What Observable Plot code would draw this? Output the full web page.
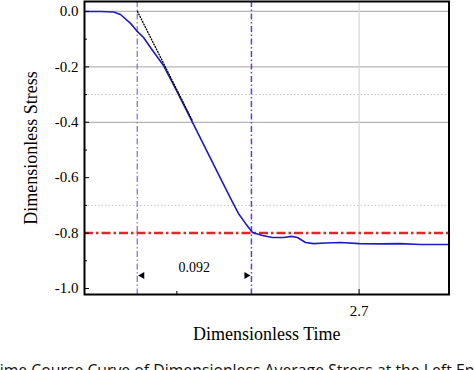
<!DOCTYPE html>
<html>
<head>
<meta charset="utf-8">
<script src="https://cdn.jsdelivr.net/npm/d3@7"></script>
<script src="https://cdn.jsdelivr.net/npm/@observablehq/plot@0.6"></script>
<style>
  html, body { margin: 0; padding: 0; background: #fff; }
  body { width: 474px; height: 370px; overflow: hidden; position: relative; }
  #chart svg { display: block; }
  #caption { position: absolute; top: 362px; left: -9px; white-space: nowrap;
    font-family: "Open Sans", "Noto Sans", sans-serif; font-size: 15.8px; line-height: 16px; color: #111; }
</style>
</head>
<body>
<div id="chart"></div>
<div id="caption">Time Course Curve of Dimensionless Average Stress at the Left End</div>
<script>
// ---- data ----
const time = [2.474, 2.4872, 2.4979, 2.5036, 2.5119, 2.5168, 2.5226, 2.5283, 2.539, 2.5505, 2.5629, 2.5736, 2.5843, 2.5958, 2.6007, 2.6065, 2.6123, 2.6205, 2.6287, 2.6378, 2.6444, 2.6493, 2.6559, 2.6625, 2.6723, 2.6847, 2.7003, 2.7176, 2.7341, 2.7505, 2.767, 2.7736];
const stress = [0, 0, -0.002, -0.011, -0.043, -0.069, -0.094, -0.13, -0.195, -0.292, -0.4, -0.494, -0.588, -0.688, -0.729, -0.765, -0.798, -0.809, -0.816, -0.816, -0.812, -0.816, -0.834, -0.838, -0.836, -0.834, -0.838, -0.839, -0.838, -0.841, -0.841, -0.841];

const tangentTime = [2.5176, 2.5629];
const tangentStress = [0, -0.395];

const markerTimes = [2.5174, 2.6114];   // vertical dash-dot lines
const refStress = [-0.8];               // red dash-dot line
const gapLabel = "0.092";
const gapLabelStress = -0.925;
const gapArrowStress = -0.953;

const yMajorTicks = [0, -0.2, -0.4, -0.6, -0.8, -1.0];
const yMinorTicks = [-0.1, -0.3, -0.5, -0.7, -0.9];
const xMajorTicks = [2.7];
const xMinorTicks = [2.55];
const gridSolid = [0, -0.2, -0.4];
const gridDotted = [-0.3, -0.7];
const gridX = [2.7];

const xTitle = "Dimensionless Time";
const yTitle = "Dimensionless Stress";

// ---- tables ----
const curve = time.map((t, i) => ({t, v: stress[i]}));
const tangent = tangentTime.map((t, i) => ({t, v: tangentStress[i]}));

const chart = Plot.plot({
  width: 474,
  height: 350,
  marginLeft: 84,
  marginRight: 25.5,
  marginTop: 1,
  marginBottom: 56,
  x: {domain: [2.474, 2.774]},
  y: {domain: [-1.0217, 0.036]},
  style: {fontFamily: "'Liberation Serif', 'Times New Roman', serif", fontSize: "15px", color: "black", background: "white"},
  marks: [
    Plot.ruleY(gridSolid, {stroke: "#b5b5b5", strokeWidth: 1.3}),
    Plot.ruleY(gridDotted, {stroke: "#c4c4c4", strokeWidth: 1, strokeDasharray: "1.5,2"}),
    Plot.ruleX(gridX, {stroke: "#dadada", strokeWidth: 1.3}),
    Plot.ruleX([markerTimes[0]], {stroke: "#9370e6", strokeWidth: 1.3, strokeDasharray: "6,2.5,1.5,2.5"}),
    Plot.ruleX([markerTimes[1]], {stroke: "#7433dd", strokeWidth: 1.5, strokeDasharray: "6,2.5,1.5,2.5"}),
    Plot.ruleY(refStress, {stroke: "#e4252b", strokeWidth: 2.5, strokeDasharray: "9,3,2.5,3"}),
    Plot.line(curve, {x: "t", y: "v", stroke: "#1c1cc8", strokeWidth: 1.6}),
    Plot.line(tangent, {x: "t", y: "v", stroke: "#000", strokeWidth: 1.3, strokeDasharray: "1,1.8"}),
    Plot.dot([{t: markerTimes[0], v: gapArrowStress}], {x: "t", y: "v", symbol: "triangle", r: 2.6, fill: "#000", stroke: null, rotate: -90, dx: 5}),
    Plot.dot([{t: markerTimes[1], v: gapArrowStress}], {x: "t", y: "v", symbol: "triangle", r: 2.6, fill: "#000", stroke: null, rotate: 90, dx: -5}),
    Plot.text([{t: (markerTimes[0] + markerTimes[1]) / 2, v: gapLabelStress, s: gapLabel}], {x: "t", y: "v", text: "s", fontSize: 14}),
    Plot.axisY(yMajorTicks, {tickSize: -5, tickPadding: 11, tickFormat: d => d.toFixed(1), fontSize: 15, label: null}),
    Plot.axisY(yMinorTicks, {tickSize: -3, tickPadding: 9, tickFormat: () => "", label: null}),
    Plot.axisX(xMajorTicks, {tickSize: -5, tickPadding: 16, tickFormat: d => d.toFixed(1), fontSize: 15, label: null}),
    Plot.axisX(xMinorTicks, {tickSize: -3, tickPadding: 9, tickFormat: () => "", label: null}),
    Plot.frame({stroke: "#000", strokeWidth: 2}),
    Plot.text([yTitle], {text: d => d, frameAnchor: "left", dx: -53, rotate: -90, textAnchor: "middle", fontSize: 18}),
    Plot.text([xTitle], {text: d => d, frameAnchor: "bottom", dy: 45, fontSize: 18})
  ]
});
document.getElementById("chart").appendChild(chart);
</script>
</body>
</html>
